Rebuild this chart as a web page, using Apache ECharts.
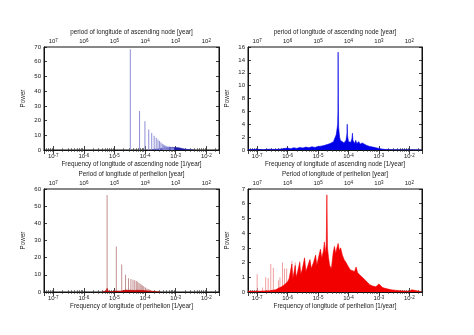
<!DOCTYPE html>
<html>
<head>
<meta charset="utf-8">
<script src="https://cdn.jsdelivr.net/npm/echarts@6/dist/echarts.min.js"></script>
<style>
html,body{margin:0;padding:0;background:#fff;}
#chart{width:474px;height:335px;}
</style>
</head>
<body>
<div id="chart"></div>
<script>
// ---------- data ----------
// top-left: ascending node, harmonic impulses
var nodeImpFreq  = [3.3e-5, 6.6e-5, 9.9e-5, 1.32e-4, 1.65e-4, 1.98e-4, 2.31e-4, 2.64e-4, 2.97e-4, 3.3e-4, 3.63e-4, 3.96e-4, 4.29e-4, 4.62e-4, 4.95e-4, 5.28e-4, 5.61e-4, 5.94e-4, 6.6e-4, 7.26e-4, 7.92e-4, 8.58e-4];
var nodeImpPower = [68.5, 26.5, 19.5, 14, 11.5, 9.6, 8.3, 7.2, 6.1, 5.1, 4.3, 3.8, 3.3, 2.9, 2.6, 2.4, 2.2, 2.0, 1.9, 1.8, 1.7, 1.6];
var nodeDenseFreq  = [1.5e-4, 2.0e-4, 3.0e-4, 4.0e-4, 5.0e-4, 6.0e-4, 7.0e-4, 8.0e-4, 9.0e-4, 1.0e-3, 1.2e-3, 1.4e-3, 1.6e-3, 1.9e-3, 2.2e-3, 2.6e-3, 3.2e-3, 4.0e-3];
var nodeDensePower = [0.0, 0.3, 0.8, 1.2, 1.6, 1.9, 1.8, 2.0, 1.7, 1.9, 1.6, 1.3, 1.0, 0.7, 0.5, 0.3, 0.1, 0.03];

// top-right: ascending node, filled spectrum
var nodeSpecFreq  = [5.0e-8, 1.0e-7, 1.6e-7, 2.5e-7, 4.0e-7, 6.3e-7, 1.0e-6, 1.26e-6, 1.6e-6, 2.0e-6, 2.5e-6, 3.2e-6, 4.0e-6, 5.0e-6, 6.3e-6, 7.9e-6, 1.0e-5, 1.26e-5, 1.58e-5, 2.0e-5, 2.5e-5, 3.2e-5, 3.55e-5, 3.98e-5, 4.27e-5, 4.4e-5, 4.5e-5, 4.57e-5, 4.65e-5, 4.75e-5, 4.9e-5, 5.1e-5, 5.4e-5, 6.0e-5, 7.1e-5, 8.3e-5, 8.9e-5, 9.1e-5, 9.3e-5, 1.0e-4, 1.1e-4, 1.2e-4, 1.3e-4, 1.35e-4, 1.4e-4, 1.58e-4, 1.74e-4, 1.86e-4, 2.1e-4, 2.2e-4, 2.4e-4, 2.8e-4, 3.2e-4, 4.0e-4, 5.0e-4, 6.3e-4, 7.9e-4, 1.0e-3, 1.26e-3, 1.6e-3, 2.5e-3, 5.0e-3, 1.0e-2, 2.5e-2];
var nodeSpecPower = [0.05, 0.1, 0.05, 0.12, 0.08, 0.15, 0.3, 0.2, 0.35, 0.25, 0.4, 0.3, 0.45, 0.35, 0.5, 0.4, 0.55, 0.6, 0.7, 0.85, 1.0, 1.3, 1.6, 2.4, 3.5, 4.0, 6.0, 15.2, 7.0, 3.6, 2.8, 2.0, 1.5, 1.2, 1.1, 1.5, 2.5, 4.0, 2.2, 1.3, 1.1, 1.2, 1.8, 2.6, 1.5, 1.0, 1.5, 1.0, 1.0, 1.3, 0.9, 1.1, 0.9, 0.7, 0.55, 0.45, 0.35, 0.25, 0.15, 0.08, 0.04, 0.02, 0.02, 0.01];

// bottom-left: perihelion, harmonic impulses
var periImpFreq  = [5.75e-6, 1.15e-5, 1.725e-5, 2.3e-5, 2.875e-5, 3.45e-5, 4.025e-5, 4.6e-5, 5.175e-5, 5.75e-5, 6.325e-5, 6.9e-5, 7.475e-5, 8.05e-5, 8.625e-5, 9.2e-5, 1.035e-4, 1.15e-4, 1.265e-4, 1.38e-4, 1.495e-4, 1.61e-4, 1.84e-4];
var periImpPower = [56.5, 26.5, 16, 10, 8, 7.6, 7.2, 6.8, 6.4, 5.9, 5.3, 4.8, 4.3, 3.9, 3.5, 3.1, 2.6, 2.1, 1.7, 1.4, 1.1, 0.8, 0.5];
var periDenseFreq  = [4.0e-6, 5.4e-6, 5.75e-6, 6.1e-6, 8.0e-6, 1.08e-5, 1.15e-5, 1.22e-5, 1.6e-5, 1.725e-5, 1.85e-5, 2.3e-5, 2.9e-5, 3.5e-5, 4.5e-5, 6.0e-5, 8.0e-5, 1.0e-4, 1.3e-4, 1.6e-4, 2.0e-4, 2.6e-4, 3.2e-4];
var periDensePower = [0.0, 0.6, 2.2, 0.6, 0.2, 0.6, 1.6, 0.6, 0.5, 1.3, 0.6, 1.1, 1.0, 1.0, 0.9, 1.0, 0.9, 0.8, 0.6, 0.45, 0.3, 0.1, 0.02];

// bottom-right: perihelion, filled spectrum + thin spikes
var periSpecFreq  = [5e-8, 1e-7, 2.5e-7, 4e-7, 5e-7, 6.3e-7, 7.9e-7, 1e-6, 1.12e-6, 1.26e-6, 1.38e-6, 1.48e-6, 1.58e-6, 1.78e-6, 1.9e-6, 2.1e-6, 2.5e-6, 2.7e-6, 3.0e-6, 3.6e-6, 4.0e-6, 4.5e-6, 5.4e-6, 6.0e-6, 7.1e-6, 8.3e-6, 9.1e-6, 1.05e-5, 1.2e-5, 1.32e-5, 1.51e-5, 1.62e-5, 1.74e-5, 1.86e-5, 1.95e-5, 2.04e-5, 2.19e-5, 2.4e-5, 2.75e-5, 3.16e-5, 3.47e-5, 3.8e-5, 4.17e-5, 4.57e-5, 5.0e-5, 5.5e-5, 6.3e-5, 7.2e-5, 8.3e-5, 1.0e-4, 1.15e-4, 1.32e-4, 1.58e-4, 1.78e-4, 2.0e-4, 2.5e-4, 3.2e-4, 4.0e-4, 5.0e-4, 6.3e-4, 7.9e-4, 1.0e-3, 1.12e-3, 1.32e-3, 1.58e-3, 2.5e-3, 4.0e-3, 6.3e-3, 1.0e-2, 1.2e-2, 1.32e-2, 2.5e-2];
var periSpecPower = [0.05, 0.05, 0.08, 0.15, 0.25, 0.35, 0.5, 0.7, 0.9, 0.8, 1.9, 0.9, 1.0, 1.8, 1.0, 1.3, 2.0, 1.2, 1.5, 2.3, 1.4, 1.7, 2.2, 1.6, 2.0, 2.5, 1.8, 2.4, 2.9, 2.3, 2.8, 3.4, 2.6, 3.2, 6.6, 3.0, 2.4, 1.8, 1.6, 2.7, 3.1, 2.6, 3.0, 3.3, 2.8, 3.0, 2.5, 2.2, 2.0, 1.7, 1.5, 1.6, 1.4, 1.7, 1.3, 1.1, 0.9, 0.7, 0.5, 0.4, 0.35, 0.55, 0.5, 0.3, 0.25, 0.15, 0.1, 0.07, 0.05, 0.15, 0.04, 0.02];
var periSpikeFreq  = [1.0e-7, 1.5e-7, 1.9e-7, 2.3e-7, 2.8e-7, 3.4e-7, 5.0e-7, 5.6e-7, 6.8e-7, 7.9e-7, 9.3e-7, 1.38e-6, 1.78e-6, 2.5e-6, 3.6e-6, 5.4e-6, 8.3e-6, 1.2e-5];
var periSpikePower = [1.2, 0.3, 1.0, 0.95, 1.9, 1.65, 0.8, 1.0, 2.0, 1.6, 1.6, 2.1, 2.0, 2.1, 2.35, 2.2, 2.5, 2.9];

// axes / labels
var X_MIN = 5e-8, X_MAX = 2.6e-2;
var yMax = [70, 16, 60, 7];
var yStep = [10, 2, 10, 1];
var periodTitles = ['period of longitude of ascending node [year]', 'period of longitude of ascending node [year]', 'Period of longitude of perihelion [year]', 'Period of longitude of perihelion [year]'];
var freqTitles = ['Frequency of longitude of ascending node [1/year]', 'Frequency of longitude of ascending node [1/year]', 'Frequency of longitude of perihelion [1/year]', 'Frequency of longitude of perihelion [1/year]'];
var yTitle = 'Power';

// ---------- chart ----------
var FONT = 'Liberation Sans, Arial, sans-serif';
var grids = [
  {left: 44, top: 47, width: 175, height: 103},
  {left: 248, top: 47, width: 174, height: 103},
  {left: 44, top: 189, width: 175, height: 103},
  {left: 248, top: 189, width: 174, height: 103}
];
grids.forEach(function (g) { g.show = true; g.borderColor = '#111'; g.borderWidth = 1; g.containLabel = false; });

function expOf(v) {
  var l = Math.log10(v), e = Math.round(l);
  return Math.abs(l - e) < 1e-6 ? e : null;
}
var rich = { s: { fontSize: 4.5, fontFamily: FONT, color: '#1a1a1a', verticalAlign: 'top', lineHeight: 6 } };
function freqLabel(v) { var e = expOf(v); return e === null ? '' : '10{s|' + e + '}'; }
function periodLabel(v) { var e = expOf(v); return e === null ? '' : '10{s|' + (-e) + '}'; }

var xAxes = [], yAxes = [];
for (var i = 0; i < 4; i++) {
  var common = {
    type: 'log', logBase: 10, gridIndex: i, min: X_MIN, max: X_MAX,
    axisLine: { show: true, lineStyle: { color: '#111', width: 1 } },
    axisTick: { show: true, inside: true, length: 4, lineStyle: { color: '#111', width: 0.8 } },
    minorTick: { show: true, splitNumber: 9, length: 2, lineStyle: { color: '#333', width: 0.6 } },
    splitLine: { show: false }, minorSplitLine: { show: false },
    nameLocation: 'middle',
    nameTextStyle: { fontSize: 6.3, fontFamily: FONT, color: '#1a1a1a' }
  };
  xAxes.push(Object.assign({}, common, {
    position: 'bottom', name: freqTitles[i], nameGap: 11,
    axisLabel: { formatter: freqLabel, rich: rich, fontSize: 6, fontFamily: FONT, color: '#1a1a1a', margin: 3, showMinLabel: false, showMaxLabel: false }
  }));
  xAxes.push(Object.assign({}, common, {
    position: 'top', name: periodTitles[i], nameGap: 12,
    axisLabel: { formatter: periodLabel, rich: rich, fontSize: 6, fontFamily: FONT, color: '#1a1a1a', margin: 3, showMinLabel: false, showMaxLabel: false }
  }));
  var ycommon = {
    type: 'value', gridIndex: i, min: 0, max: yMax[i], interval: yStep[i],
    axisLine: { show: true, lineStyle: { color: '#111', width: 1 } },
    axisTick: { show: true, inside: true, length: 3, lineStyle: { color: '#111', width: 0.8 } },
    splitLine: { show: false }
  };
  yAxes.push(Object.assign({}, ycommon, {
    position: 'left', name: yTitle, nameLocation: 'middle', nameGap: 18, nameRotate: 90,
    nameTextStyle: { fontSize: 6.3, fontFamily: FONT, color: '#1a1a1a' },
    axisLabel: { fontSize: 6, fontFamily: FONT, color: '#1a1a1a', margin: 3 }
  }));
  yAxes.push(Object.assign({}, ycommon, { position: 'right', axisLabel: { show: false } }));
}

function pairs(f, p) { return f.map(function (x, k) { return [x, p[k]]; }); }

var series = [
  { type: 'line', xAxisIndex: 0, yAxisIndex: 0, data: pairs(nodeDenseFreq, nodeDensePower), symbol: 'none',
    lineStyle: { color: '#1c1ca8', width: 0.6 }, areaStyle: { color: '#1c1ca8', opacity: 1 }, z: 2 },
  { type: 'bar', xAxisIndex: 0, yAxisIndex: 0, data: pairs(nodeImpFreq, nodeImpPower), barWidth: 1,
    itemStyle: { color: '#8e8ed6' }, z: 3 },
  { type: 'line', xAxisIndex: 2, yAxisIndex: 2, data: pairs(nodeSpecFreq, nodeSpecPower), symbol: 'none',
    lineStyle: { color: '#0000e8', width: 0.6 }, areaStyle: { color: '#0000e8', opacity: 1 } },
  { type: 'bar', xAxisIndex: 4, yAxisIndex: 4, data: pairs(periImpFreq, periImpPower), barWidth: 1,
    itemStyle: { color: '#c49090' }, z: 2 },
  { type: 'line', xAxisIndex: 4, yAxisIndex: 4, data: pairs(periDenseFreq, periDensePower), symbol: 'none',
    lineStyle: { color: '#c40000', width: 0.6 }, areaStyle: { color: '#c40000', opacity: 1 }, z: 3 },
  { type: 'bar', xAxisIndex: 6, yAxisIndex: 6, data: pairs(periSpikeFreq, periSpikePower), barWidth: 1,
    itemStyle: { color: '#eea0a0' }, z: 1 },
  { type: 'line', xAxisIndex: 6, yAxisIndex: 6, data: pairs(periSpecFreq, periSpecPower), symbol: 'none',
    lineStyle: { color: '#f20000', width: 0.6 }, areaStyle: { color: '#f20000', opacity: 1 }, z: 2 }
];

var chart = echarts.init(document.getElementById('chart'), null, { renderer: 'canvas' });
chart.setOption({
  animation: false,
  backgroundColor: '#fff',
  textStyle: { fontFamily: FONT },
  grid: grids,
  xAxis: xAxes,
  yAxis: yAxes,
  series: series
});
</script>
</body>
</html>
